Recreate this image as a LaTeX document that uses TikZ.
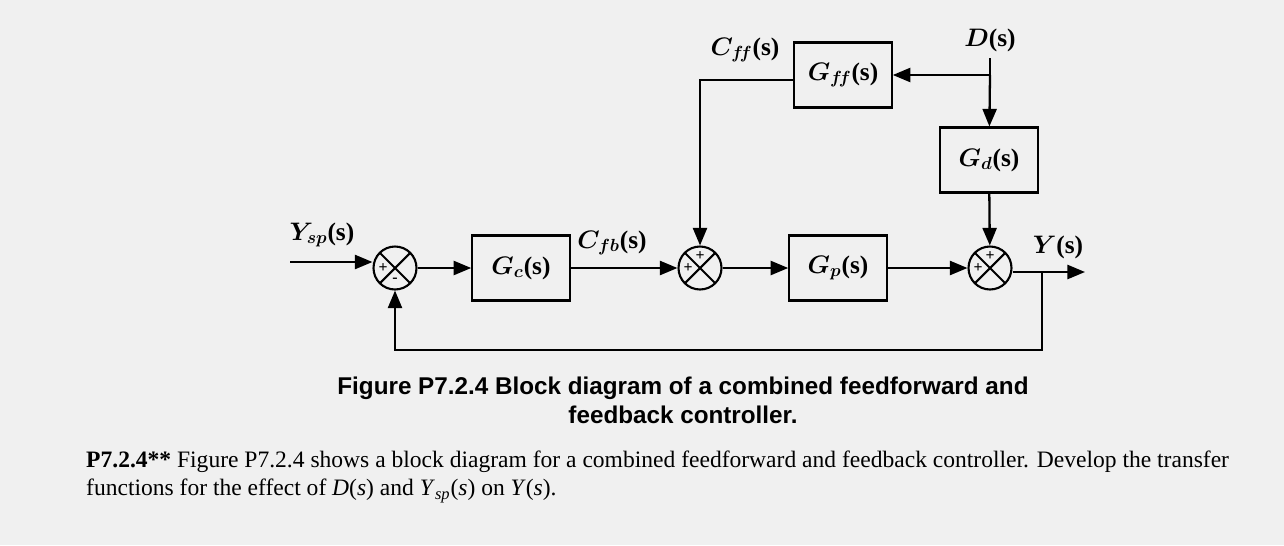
\documentclass[tikz,border=0pt]{standalone}
\usepackage{amsmath,bm}
\usepackage{fontspec}
\newfontfamily\capfont{Liberation Sans}
\setmainfont{Liberation Serif}
\usetikzlibrary{arrows.meta}
\begin{document}
\begin{tikzpicture}[x=0.02cm,y=-0.02cm,
  blk/.style={draw,line width=1.2pt,minimum width=1.95cm,minimum height=1.3cm,font=\bfseries\Large},
  sumj/.style={draw,circle,line width=1.2pt,minimum size=0.86cm,inner sep=0pt,
     path picture={\draw[line width=1.2pt] ([shift={(-0.31cm,-0.31cm)}]path picture bounding box.center)--([shift={(0.31cm,0.31cm)}]path picture bounding box.center)
       ([shift={(-0.31cm,0.31cm)}]path picture bounding box.center)--([shift={(0.31cm,-0.31cm)}]path picture bounding box.center);}},
  sig/.style={line width=1.3pt,-{Triangle[length=10pt,width=8pt]}},
  ln/.style={line width=1.3pt},
  sg/.style={font=\bfseries\small,inner sep=0pt},
  lab/.style={font=\bfseries\Large}]
\useasboundingbox (0,0) rectangle (1284,545);
\fill[black!6] (0,0) rectangle (1284,545);
\node[sumj] (s1) at (395,268) {};
\node[blk] (gc) at (521,268) {$\bm{G_c}$(s)};
\node[sumj] (s2) at (700,268) {};
\node[blk] (gp) at (838,268) {$\bm{G_p}$(s)};
\node[sumj] (s3) at (990,268) {};
\node[blk] (gff) at (843,75) {$\bm{G_{f\!f}}$(s)};
\node[blk] (gd) at (989,160) {$\bm{G_d}$(s)};
\coordinate (din) at (990,58);
\coordinate (dbr) at (990,75);
\coordinate (yin) at (290,262);
\coordinate (yout) at (1085,272);
\coordinate (ybr) at (1042,272);
\coordinate (fb1) at (1042,350);
\node[lab] (dl) at (990,40) {$\bm{D}$(s)};
\node[lab] (cffl) at (745,50) {$\bm{C_{f\!f}}$(s)};
\node[lab] (yspl) at (322,235) {$\bm{Y_{sp}}$(s)};
\node[lab] (cfbl) at (612,243) {$\bm{C_{fb}}$(s)};
\node[lab] (yl) at (1058,247) {$\bm{Y}$(s)};
\draw[sig] (yin) -- (s1.west|-yin);
\draw[sig] (s1) -- (gc);
\draw[sig] (gc) -- (s2);
\draw[sig] (s2) -- (gp);
\draw[sig] (gp) -- (s3);
\draw[ln] (din) -- (dbr);
\draw[sig] (dbr) -- (gd);
\draw[sig] (dbr) -- (gff.east|-dbr);
\draw[sig] (gff.west|-0,80) -| (s2.north);
\draw[sig] (gd) -- (s3);
\draw[sig] (s3.east|-yout) -- (yout);
\draw[sig] (ybr) -- (fb1) -| (s1.south);
\node[sg] at ([xshift=-0.24cm]s1.center) {+};
\node[sg] at ([yshift=-0.25cm]s1.center) {-};
\node[sg] at ([yshift=0.24cm]s2.center) {+};
\node[sg] at ([xshift=-0.24cm]s2.center) {+};
\node[sg] at ([yshift=0.24cm]s3.center) {+};
\node[sg] at ([xshift=-0.24cm]s3.center) {+};
\node[font=\capfont\bfseries\fontsize{13.8}{16.5}\selectfont,align=center] (cap) at (683,400) {Figure P7.2.4 Block diagram of a combined feedforward and\\feedback controller.};
\node[font=\fontsize{13.4}{16}\selectfont,anchor=west,align=left] (txt) at (80,477) {\textbf{P7.2.4**} Figure P7.2.4 shows a block diagram for a combined feedforward and feedback controller. Develop the transfer\\functions for the effect of \textit{D}(\textit{s}) and \textit{Y}\textsubscript{\textit{sp}}(\textit{s}) on \textit{Y}(\textit{s}).};
\end{tikzpicture}
\end{document}
